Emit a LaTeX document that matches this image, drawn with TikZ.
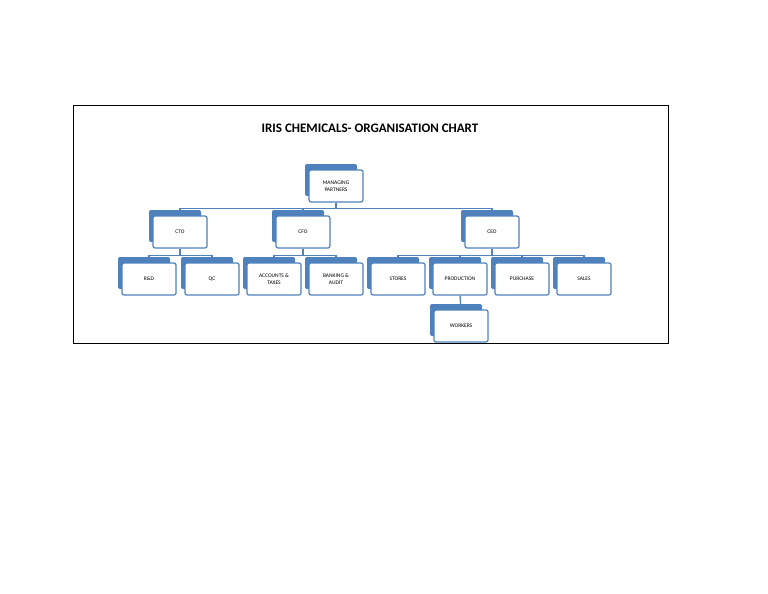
\documentclass[tikz,border=0pt]{standalone}
\usepackage{fontspec}
\setmainfont{Carlito}
\definecolor{bl}{HTML}{4F81BD}
\begin{document}
\begin{tikzpicture}[x=1pt,y=-1pt,
  box/.style={draw=bl,line width=1.2pt,fill=white,rounded corners=2pt,minimum width=54pt,minimum height=32pt,align=center,font=\fontsize{5.5}{6.5}\selectfont,inner sep=1pt},
  conn/.style={draw=bl,line width=1.3pt}]
\useasboundingbox (0,0) rectangle (768,594);
\draw[black,line width=0.6pt] (73,105) rectangle (668,343);
\node[font=\bfseries\fontsize{13}{15}\selectfont] (title) at (370,128) {IRIS CHEMICALS- ORGANISATION CHART};
\newcommand\orgbox[4]{%
  \fill[bl,rounded corners=2pt] (#2-31,#3-22) rectangle (#2+21,#3+10);
  \node[box] (#1) at (#2,#3) {#4};}
\orgbox{mp}{336}{186}{MANAGING\\PARTNERS}
\orgbox{cto}{180}{232}{CTO}
\orgbox{cfo}{303}{232}{CFO}
\orgbox{ceo}{492}{232}{CEO}
\orgbox{rd}{149}{279}{R\&D}
\orgbox{qc}{212}{279}{QC}
\orgbox{at}{274}{279}{ACCOUNTS \&\\TAXES}
\orgbox{ba}{336}{279}{BANKING \&\\AUDIT}
\orgbox{st}{398}{279}{STORES}
\orgbox{pr}{460}{279}{PRODUCTION}
\orgbox{pu}{522}{279}{PURCHASE}
\orgbox{sa}{584}{279}{SALES}
\orgbox{wo}{461}{326}{WORKERS}
\draw[conn] (mp.south) -- ++(0,6) -| (cto.north);
\draw[conn] (mp.south) -- ++(0,6) -| (cfo.north);
\draw[conn] (mp.south) -- ++(0,6) -| (ceo.north);
\foreach \c in {rd,qc} \draw[conn] (cto.south) -- ++(0,7) -| (\c.north);
\foreach \c in {at,ba} \draw[conn] (cfo.south) -- ++(0,7) -| (\c.north);
\foreach \c in {st,pr,pu,sa} \draw[conn] (ceo.south) -- ++(0,7) -| (\c.north);
\draw[conn] (pr.south) -- (wo.north);
\end{tikzpicture}
\end{document}
